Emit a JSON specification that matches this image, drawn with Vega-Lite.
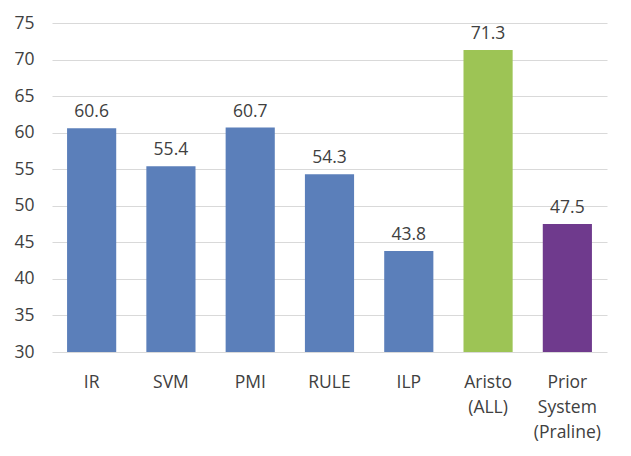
{
  "$schema": "https://vega.github.io/schema/vega-lite/v6.json",
  "width": 555,
  "height": 329,
  "autosize": "none",
  "padding": {"left": 52, "top": 23, "right": 24, "bottom": 104},
  "background": "white",
  "config": {
    "view": {"stroke": null},
    "font": "Open Sans"
  },
  "data": {
    "values": [
      {"system": "IR", "score": 60.6, "group": "ours"},
      {"system": "SVM", "score": 55.4, "group": "ours"},
      {"system": "PMI", "score": 60.7, "group": "ours"},
      {"system": "RULE", "score": 54.3, "group": "ours"},
      {"system": "ILP", "score": 43.8, "group": "ours"},
      {"system": "Aristo|(ALL)", "score": 71.3, "group": "all"},
      {"system": "Prior|System|(Praline)", "score": 47.5, "group": "prior"}
    ]
  },
  "encoding": {
    "x": {
      "field": "system",
      "type": "nominal",
      "sort": null,
      "scale": {"paddingInner": 0.38, "paddingOuter": 0.19},
      "axis": {
        "title": null,
        "labelAngle": 0,
        "labelExpr": "split(datum.label, '|')",
        "labelFontSize": 17.5,
        "labelColor": "#404040",
        "labelPadding": 21,
        "labelLineHeight": 25,
        "domain": false,
        "ticks": false
      }
    },
    "y": {
      "field": "score",
      "type": "quantitative",
      "scale": {"domain": [30, 75], "zero": false, "nice": false},
      "axis": {
        "title": null,
        "values": [30, 35, 40, 45, 50, 55, 60, 65, 70, 75],
        "labelFontSize": 17.5,
        "labelColor": "#404040",
        "labelPadding": 18,
        "domain": false,
        "ticks": false,
        "gridColor": "#d9d9d9",
        "gridWidth": 1
      }
    }
  },
  "layer": [
    {
      "mark": {"type": "bar", "clip": true},
      "encoding": {
        "color": {
          "field": "group",
          "type": "nominal",
          "scale": {"domain": ["ours", "all", "prior"], "range": ["#5B7FBA", "#9DC455", "#6F3A8D"]},
          "legend": null
        }
      }
    },
    {
      "mark": {"type": "text", "dy": -16, "fontSize": 17.5, "color": "#404040"},
      "encoding": {
        "text": {"field": "score", "type": "quantitative", "format": ".1f"}
      }
    }
  ]
}
